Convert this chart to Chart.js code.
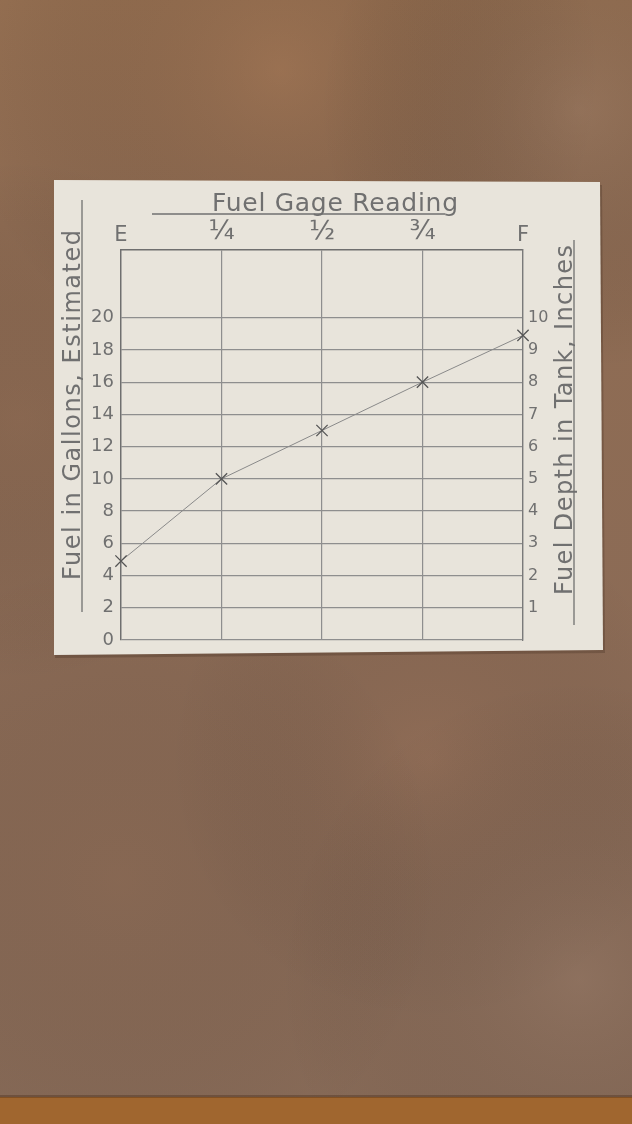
<!DOCTYPE html>
<html><head><meta charset="utf-8">
<style>
html,body{margin:0;padding:0;background:#8c6c54;overflow:hidden}
#wrap{width:632px;height:1124px;position:relative}
</style>
<script src="https://cdn.jsdelivr.net/npm/chart.js@4/dist/chart.umd.min.js"></script>
</head><body><div id="wrap"><canvas id="c"></canvas></div>
<script>
// ---- data ----
const gaugeLabels = ['E', '¼', '½', '¾', 'F'];
const gallons = [4.9, 10.0, 13.0, 16.0, 18.9];
const gallonTickMax = 20;
const inchTickMin = 1;
const inchTickMax = 10;
const chartTitle = 'Fuel Gage Reading';
const leftTitle = 'Fuel in Gallons, Estimated';
const rightTitle = 'Fuel Depth in Tank, Inches';

const PENCIL = '#707070';
const GRID = '#8e8e8e';
const FONT = "'DejaVu Sans', sans-serif";

function spacedText(c, text, cx, cy, targetWidth) {
  c.letterSpacing = '0px';
  const w = c.measureText(text).width;
  const sp = Math.max(0, (targetWidth - w) / (text.length - 1));
  c.letterSpacing = sp.toFixed(2) + 'px';
  const w2 = c.measureText(text).width;
  c.textAlign = 'left';
  c.fillText(text, cx - (w2 - sp) / 2, cy);
  c.letterSpacing = '0px';
}

const backdrop = {
  id: 'backdrop',
  beforeDraw(chart) {
    const c = chart.ctx, W = chart.width, H = chart.height;
    c.save();
    // table
    let g = c.createLinearGradient(0, 0, 0, H);
    g.addColorStop(0, '#967052');
    g.addColorStop(0.2, '#8f6c53');
    g.addColorStop(0.6, '#8b6b56');
    g.addColorStop(1, '#886b58');
    c.fillStyle = g; c.fillRect(0, 0, W, H);
    const spots = [[280, 70, 320, 'rgba(170,118,80,0.25)'], [580, 110, 260, 'rgba(150,128,115,0.22)'],
                   [430, 760, 260, 'rgba(170,115,85,0.15)'], [120, 880, 320, 'rgba(120,84,60,0.15)'],
                   [580, 980, 300, 'rgba(160,138,125,0.18)'], [20, 420, 260, 'rgba(115,82,62,0.18)']];
    for (const [x, y, r, col] of spots) {
      const rg = c.createRadialGradient(x, y, 0, x, y, r);
      rg.addColorStop(0, col); rg.addColorStop(1, 'rgba(0,0,0,0)');
      c.fillStyle = rg; c.fillRect(0, 0, W, H);
    }
    // wood strip at the bottom
    c.fillStyle = '#a0662f'; c.fillRect(0, 1097, W, H - 1097);
    c.fillStyle = 'rgba(60,30,10,0.3)'; c.fillRect(0, 1095, W, 3);
    // paper
    c.fillStyle = 'rgba(40,25,15,0.22)';
    c.beginPath(); c.moveTo(55, 183); c.lineTo(602, 185); c.lineTo(605, 653); c.lineTo(55, 658); c.closePath(); c.fill();
    c.fillStyle = '#e8e4db';
    c.beginPath(); c.moveTo(54, 180); c.lineTo(600, 182); c.lineTo(603, 650); c.lineTo(54, 655); c.closePath(); c.fill();
    c.restore();
  },
  afterDraw(chart) {
    const c = chart.ctx;
    c.save();
    c.strokeStyle = PENCIL; c.fillStyle = PENCIL; c.lineWidth = 1.3;
    c.textBaseline = 'alphabetic';
    // chart title with underline
    c.font = "25px " + FONT;
    spacedText(c, chartTitle, 335, 211, 246);
    c.beginPath(); c.moveTo(152, 214); c.lineTo(445, 214); c.stroke();
    // left axis title
    c.font = "24px " + FONT;
    c.save(); c.translate(80, 405); c.rotate(-Math.PI / 2); spacedText(c, leftTitle, 0, 0, 350); c.restore();
    c.beginPath(); c.moveTo(82, 200); c.lineTo(82, 612); c.stroke();
    // right axis title
    c.save(); c.translate(572, 420); c.rotate(-Math.PI / 2); spacedText(c, rightTitle, 0, 0, 350); c.restore();
    c.beginPath(); c.moveTo(574, 240); c.lineTo(574, 625); c.stroke();
    c.restore();
  }
};

new Chart(document.getElementById('c'), {
  type: 'line',
  data: {
    labels: gaugeLabels,
    datasets: [{
      data: gallons,
      yAxisID: 'y',
      borderColor: '#8a8a8a',
      borderWidth: 1,
      pointStyle: 'crossRot',
      pointRadius: 8,
      pointHoverRadius: 8,
      pointBorderColor: '#555',
      pointBorderWidth: 1.3,
      tension: 0
    }]
  },
  options: {
    responsive: true,
    maintainAspectRatio: false,
    animation: false,
    layout: { padding: { top: 215, left: 0, right: 0, bottom: 484 } },
    plugins: {
      legend: { display: false },
      tooltip: { enabled: false },
      title: { display: false }
    },
    scales: {
      x: {
        position: 'top',
        offset: false,
        grid: { color: GRID, lineWidth: 1.2, drawTicks: false },
        border: { color: '#6f6f6f', width: 1.4 },
        ticks: {
          color: PENCIL, padding: 2, maxRotation: 0,
          font: ctx => ({ family: FONT, size: (ctx.index > 0 && ctx.index < 4) ? 27 : 21 })
        },
        afterFit(s) { s.height = 35; }
      },
      y: {
        position: 'left',
        min: 0, max: 24.2,
        ticks: {
          stepSize: 2, color: PENCIL, padding: 7,
          font: { family: FONT, size: 18 },
          callback: v => (v <= gallonTickMax ? v : '')
        },
        grid: {
          drawTicks: false, lineWidth: 1.2,
          color: ctx => (ctx.tick && ctx.tick.value > gallonTickMax ? 'rgba(0,0,0,0)' : GRID)
        },
        border: { color: '#6f6f6f', width: 1.4 },
        afterFit(s) { s.width = 121; }
      },
      y1: {
        position: 'right',
        min: 0, max: 12.1,
        ticks: {
          stepSize: 1, color: PENCIL, padding: 5,
          font: { family: FONT, size: 16 },
          callback: v => (v >= inchTickMin && v <= inchTickMax ? v : '')
        },
        grid: { display: false, drawTicks: false },
        border: { color: '#7a7a7a', width: 1.3 },
        afterFit(s) { s.width = 109; }
      }
    }
  },
  plugins: [backdrop]
});
</script>
</body></html>
